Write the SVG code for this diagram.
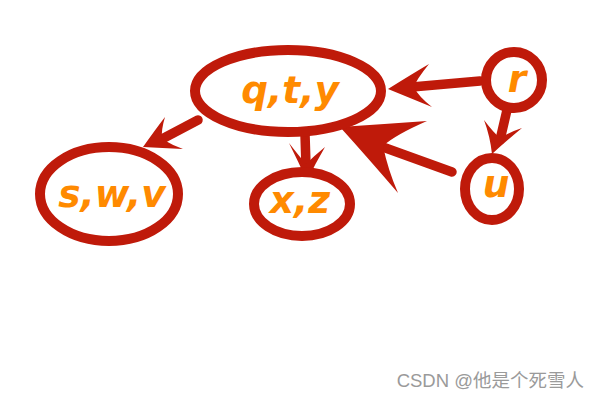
<svg xmlns="http://www.w3.org/2000/svg" width="600" height="400" viewBox="0 0 600 400">
<style>
.node{fill:#fff;stroke:#bf1a0a;stroke-width:10}
.lbl{fill:#ff8a00;font-family:"DejaVu Sans",sans-serif;font-weight:bold;font-style:italic;font-size:37.5px;text-anchor:middle}
.edge{stroke:#bf1a0a;stroke-width:9.5;stroke-linecap:round;fill:none}
.head{fill:#bf1a0a;stroke:none}
.wm{fill:#9a9a9a;font-family:"Liberation Sans","Noto Sans CJK SC",sans-serif;font-size:18.5px;text-anchor:end}
</style>
<rect width="600" height="400" fill="#fff"/>
<g id="connectors">
<line class="edge" x1="480" y1="81" x2="412" y2="87"/>
<path class="head" d="M388,89 Q412,74 429,64 Q416,80 414,87 Q418,96 432,107 Q410,98 388,89 Z"/>
<line class="edge" x1="452" y1="172" x2="380" y2="146"/>
<path class="head" d="M340,127 Q385,124 427,121 Q395,135 383,146 Q388,170 398,193 Q368,158 340,127 Z"/>
<line class="edge" x1="507" y1="110" x2="500" y2="140"/>
<path class="head" d="M492,154 Q490,136 484,120 Q493,132 500,138 Q510,132 522,128 Q505,142 492,154 Z"/>
<line class="edge" x1="198" y1="120" x2="162" y2="139"/>
<path class="head" d="M143,147 Q155,130 165,117 Q161,130 162,139 Q172,145 183,149 Q162,148 143,147 Z"/>
<line class="edge" x1="305" y1="134" x2="306" y2="166"/>
<path class="head" d="M307,181 Q298,161 289,143 Q299,156 306,164 Q314,156 325,147 Q315,164 307,181 Z"/>
</g>
<g id="node-qty">
<ellipse class="node" cx="288" cy="91" rx="93" ry="41"/>
<text class="lbl" x="290" y="103">q,t,y</text>
</g>
<g id="node-swv">
<ellipse class="node" cx="109" cy="194" rx="69" ry="47"/>
<text class="lbl" x="112" y="207">s,w,v</text>
</g>
<g id="node-xz">
<ellipse class="node" cx="302" cy="204" rx="48" ry="32"/>
<text class="lbl" x="300" y="213">x,z</text>
</g>
<g id="node-r">
<circle class="node" cx="514" cy="80" r="28"/>
<text class="lbl" x="517" y="92">r</text>
</g>
<g id="node-u">
<ellipse class="node" cx="492" cy="189" rx="27" ry="31"/>
<text class="lbl" x="496" y="197">u</text>
</g>
<text class="wm" x="584" y="387">CSDN @他是个死雪人</text>
</svg>
